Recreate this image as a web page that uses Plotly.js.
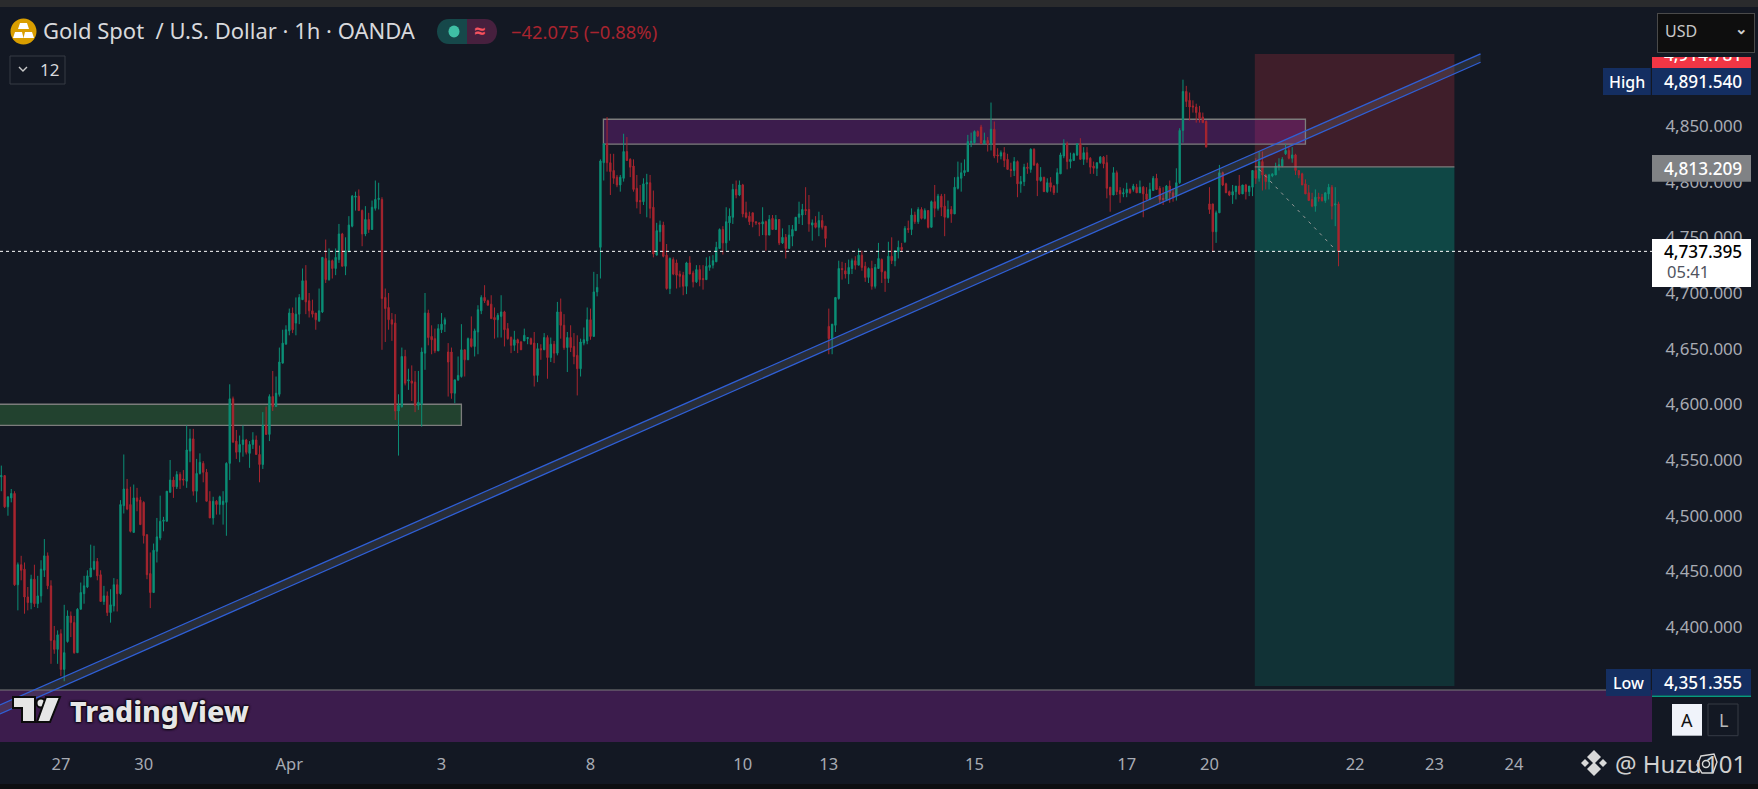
<!DOCTYPE html>
<html><head><meta charset="utf-8">
<script src="https://cdn.plot.ly/plotly-3.0.1.min.js"></script>
<style>html,body{margin:0;padding:0;background:#131823;overflow:hidden}#c{width:1758px;height:789px}</style>
</head><body><div id="c"></div>
<script>
const openPrice=[
4535,4536,4508,4516,4520,4438,4456,4452,4427,4422,
4443,4421,4428,4451,4464,4437,4388,4380,4394,4362,
4387,4410,4404,4377,4416,4430,4436,4445,4452,4459,
4447,4423,4428,4413,4419,4438,4430,4509,4524,4510,
4485,4516,4514,4512,4483,4448,4431,4468,4480,4495,
4495,4521,4532,4526,4537,4533,4531,4558,4569,4522,
4538,4547,4539,4513,4498,4513,4510,4510,4512,4547,
4605,4567,4557,4564,4568,4556,4564,4568,4555,4546,
4581,4573,4607,4598,4609,4637,4654,4666,4682,4673,
4681,4694,4711,4693,4684,4682,4675,4683,4731,4712,
4729,4722,4730,4753,4724,4737,4760,4786,4787,4774,
4753,4766,4757,4776,4784,4784,4696,4687,4676,4673,
4594,4598,4643,4621,4621,4620,4599,4600,4646,4682,
4661,4659,4648,4667,4672,4647,4647,4610,4622,4625,
4649,4640,4659,4652,4665,4684,4696,4693,4690,4678,
4676,4679,4683,4668,4660,4653,4658,4656,4657,4659,
4659,4655,4626,4650,4649,4660,4642,4654,4646,4683,
4671,4651,4660,4652,4644,4632,4655,4657,4676,4661,
4701,4741,4817,4834,4817,4810,4804,4797,4803,4827,
4820,4814,4794,4783,4782,4798,4799,4777,4734,4755,
4761,4734,4704,4730,4727,4717,4716,4706,4727,4718,
4710,4721,4713,4712,4723,4725,4728,4740,4757,4745,
4763,4768,4793,4788,4797,4772,4769,4772,4764,4763,
4762,4764,4752,4767,4757,4766,4745,4750,4740,4751,
4756,4768,4770,4775,4775,4761,4763,4759,4765,4760,
4670,4659,4671,4695,4722,4720,4717,4722,4729,4725,
4734,4724,4714,4722,4706,4722,4730,4719,4713,4733,
4729,4737,4741,4746,4758,4757,4770,4764,4775,4767,
4774,4759,4782,4776,4787,4778,4768,4775,4771,4794,
4803,4808,4809,4835,4835,4845,4849,4834,4837,4834,
4847,4824,4823,4826,4820,4811,4810,4818,4798,4800,
4813,4811,4829,4816,4801,4804,4791,4799,4796,4798,
4807,4823,4834,4818,4819,4824,4834,4820,4826,4821,
4814,4812,4817,4822,4817,4795,4788,4808,4792,4789,
4790,4793,4793,4795,4790,4795,4789,4784,4792,4803,
4794,4785,4784,4796,4790,4787,4799,4846,4881,4873,
4868,4867,4862,4858,4854,4780,4780,4755,4772,4808,
4798,4791,4788,4791,4796,4789,4797,4791,4795,4810,
4803,4818,4806,4800,4805,4806,4814,4814,4825,4828,
4821,4824,4810,4807,4798,4790,4784,4778,4786,4786,
4783,4789,4795,4779,4780];
const highPrice=[
4545,4536,4517,4524,4522,4458,4464,4458,4436,4447,
4456,4446,4460,4479,4467,4442,4401,4397,4398,4420,
4415,4414,4410,4417,4440,4446,4451,4474,4473,4462,
4451,4437,4432,4434,4444,4443,4514,4555,4533,4526,
4528,4525,4517,4513,4483,4467,4475,4498,4518,4499,
4522,4550,4535,4540,4539,4541,4581,4578,4578,4551,
4556,4549,4542,4522,4517,4514,4518,4522,4548,4618,
4607,4577,4572,4581,4569,4567,4575,4572,4563,4593,
4598,4609,4630,4625,4651,4667,4671,4686,4687,4696,
4699,4722,4725,4700,4694,4682,4704,4732,4748,4740,
4730,4740,4762,4754,4750,4769,4788,4791,4793,4775,
4778,4772,4783,4801,4799,4786,4704,4700,4682,4681,
4609,4651,4649,4632,4635,4630,4630,4651,4700,4685,
4671,4668,4672,4682,4678,4655,4651,4622,4643,4672,
4649,4660,4679,4668,4689,4698,4707,4694,4698,4687,
4682,4698,4684,4673,4661,4666,4659,4657,4668,4660,
4660,4665,4655,4654,4664,4662,4660,4657,4692,4695,
4681,4665,4671,4664,4662,4659,4669,4687,4686,4719,
4717,4820,4834,4858,4825,4825,4806,4806,4843,4840,
4821,4820,4806,4797,4803,4807,4806,4792,4763,4765,
4764,4744,4732,4732,4730,4720,4719,4728,4733,4720,
4725,4725,4725,4732,4733,4734,4746,4758,4760,4777,
4776,4798,4801,4801,4798,4782,4773,4772,4764,4763,
4777,4765,4770,4770,4770,4766,4758,4753,4761,4761,
4768,4782,4780,4795,4788,4766,4769,4773,4770,4760,
4686,4672,4696,4729,4728,4727,4730,4731,4733,4740,
4738,4728,4723,4729,4726,4745,4731,4720,4746,4750,
4738,4747,4745,4760,4765,4776,4773,4777,4777,4776,
4774,4783,4797,4789,4789,4789,4783,4778,4804,4818,
4817,4820,4842,4844,4846,4846,4851,4844,4840,4871,
4854,4830,4828,4831,4825,4817,4822,4819,4805,4816,
4817,4830,4830,4817,4813,4804,4803,4804,4797,4812,
4826,4838,4836,4826,4826,4834,4839,4831,4831,4822,
4818,4817,4823,4823,4824,4795,4813,4810,4795,4794,
4799,4794,4798,4798,4801,4796,4795,4799,4805,4807,
4796,4795,4797,4801,4794,4812,4848,4891.54,4886,4880,
4873,4870,4868,4862,4855,4795,4780,4774,4815,4809,
4799,4792,4797,4796,4806,4797,4798,4796,4810,4821,
4827,4827,4807,4807,4807,4817,4821,4822,4834,4831,
4831,4825,4810,4808,4802,4797,4790,4793,4790,4789,
4790,4798,4797,4795,4782];
const lowPrice=[
4522,4507,4500,4512,4437,4415,4442,4412,4415,4416,
4418,4417,4422,4445,4434,4367,4376,4367,4356,4351.36,
4386,4391,4376,4377,4416,4421,4435,4445,4451,4442,
4423,4420,4410,4404,4414,4414,4429,4502,4505,4485,
4485,4504,4492,4475,4443,4417,4431,4458,4478,4486,
4495,4521,4516,4524,4524,4527,4525,4548,4518,4512,
4537,4530,4513,4498,4492,4501,4501,4492,4482,4532,
4566,4551,4548,4553,4555,4543,4560,4555,4530,4542,
4573,4567,4594,4598,4607,4637,4654,4662,4664,4662,
4672,4694,4681,4678,4678,4667,4674,4682,4709,4711,
4713,4716,4727,4724,4716,4737,4759,4774,4774,4742,
4751,4754,4757,4774,4775,4649,4656,4667,4657,4586,
4554,4597,4617,4613,4603,4593,4595,4580,4631,4653,
4645,4646,4648,4664,4665,4607,4605,4601,4621,4624,
4625,4640,4651,4643,4645,4681,4691,4689,4677,4659,
4660,4660,4652,4658,4646,4648,4646,4649,4657,4654,
4654,4616,4620,4640,4649,4623,4638,4637,4644,4659,
4649,4629,4647,4636,4608,4625,4653,4654,4658,4661,
4697,4713,4801,4809,4788,4798,4795,4791,4800,4819,
4804,4791,4776,4771,4779,4768,4767,4732,4734,4746,
4732,4703,4699,4716,4704,4705,4698,4699,4717,4705,
4709,4706,4703,4712,4720,4722,4728,4740,4734.5,4738,
4747,4762,4785,4787,4768,4767,4761,4759,4761,4751,
4752,4738,4752,4757,4757,4743,4744,4731,4740,4742,
4756,4762,4761,4770,4755,4747,4758,4751,4757,4741,
4645,4645,4665,4694,4712,4713,4708,4717,4721,4725,
4720,4710,4709,4703,4704,4722,4709,4701,4709,4726,
4724,4731,4737,4745,4754,4752,4762,4762,4766,4766,
4758,4759,4768,4774,4769,4751,4767,4763,4771,4793,
4791,4805,4809,4831,4834,4840,4834,4834,4827,4828,
4821,4817,4820,4813,4811,4804,4805,4786,4790,4796,
4807,4808,4814,4787,4800,4791,4790,4791,4788,4790,
4807,4821,4811,4812,4819,4823,4820,4815,4817,4807,
4807,4805,4816,4812,4785,4773,4788,4788,4781,4786,
4786,4789,4791,4790,4790,4768,4784,4784,4792,4793,
4780,4779,4783,4781,4782,4783,4798,4835,4867,4855,
4862,4853,4853,4853,4831,4771,4737,4745,4772,4796,
4790,4787,4780,4784,4788,4789,4784,4787,4787,4798,
4800,4792,4793,4793,4804,4806,4810,4813,4824,4820,
4817,4806,4803,4797,4789,4783,4777,4773,4782,4782,
4781,4784,4766,4760,4724];
const closePrice=[
4536,4508,4517,4520,4438,4456,4451,4427,4422,4443,
4421,4428,4452,4464,4437,4388,4380,4393,4362,4377,
4410,4404,4377,4416,4431,4437,4446,4453,4459,4446,
4423,4428,4413,4420,4438,4430,4510,4524,4506,4486,
4516,4513,4492,4482,4447,4431,4469,4481,4495,4496,
4522,4532,4526,4537,4532,4532,4559,4569,4522,4538,
4548,4539,4513,4498,4513,4510,4517,4513,4547,4605,
4566,4557,4564,4568,4557,4564,4568,4555,4546,4581,
4573,4607,4598,4610,4638,4655,4667,4682,4667,4681,
4696,4711,4692,4684,4681,4676,4684,4732,4712,4729,
4722,4732,4753,4724,4738,4761,4787,4787,4774,4753,
4766,4757,4777,4784,4785,4695,4686,4676,4672,4594,
4599,4643,4619,4622,4619,4599,4602,4647,4682,4660,
4658,4648,4668,4672,4676,4638,4610,4622,4626,4649,
4640,4659,4652,4666,4685,4696,4693,4689,4677,4676,
4680,4683,4667,4659,4653,4658,4655,4649,4662,4660,
4654,4626,4650,4649,4660,4642,4654,4646,4683,4671,
4651,4660,4651,4643,4632,4656,4658,4676,4661,4701,
4705,4818.5,4834,4817,4809,4803,4797,4804,4827,4819,
4813,4793,4782,4782,4798,4799,4776,4735,4756,4761,
4733,4704,4731,4717,4716,4715,4706,4727,4717,4710,
4721,4712,4712,4724,4725,4729,4741,4757,4745,4764,
4769,4793,4788,4797,4771,4768,4764,4764,4763,4762,
4764,4752,4766,4757,4766,4745,4750,4740,4752,4757,
4768,4771,4775,4774,4762,4763,4759,4765,4759,4749,
4659,4672,4696,4722,4721,4717,4723,4729,4725,4734,
4723,4714,4722,4706,4723,4731,4719,4713,4733,4729,
4738,4741,4739,4758,4757,4770,4764,4775,4767,4774,
4759,4782,4776,4787,4777,4768,4775,4771,4795,4804,
4808,4810,4836,4836,4845,4841,4834,4837,4834,4847,
4823,4823,4826,4819,4811,4810,4818,4798,4800,4813,
4812,4829,4815,4801,4804,4791,4799,4795,4790,4808,
4824,4834,4818,4820,4825,4834,4820,4826,4820,4813,
4812,4817,4822,4816,4794,4788,4808,4791,4789,4790,
4793,4790,4796,4790,4795,4789,4784,4793,4803,4793,
4784,4784,4796,4790,4786,4799,4846,4881,4872,4867,
4867,4862,4857,4853,4831,4775,4755,4772,4808,4797,
4790,4788,4791,4796,4789,4797,4791,4796,4810,4803,
4818,4806,4800,4806,4807,4814,4815,4820,4828,4821,
4824,4810,4806,4797,4789,4783,4778,4786,4785,4783,
4790,4795,4778,4780,4737.395];
const barIndex=openPrice.map((_,i)=>i);
const timeTickPos=[18,43,87,133,178,224,250,294,340,365,409,433,457];
const timeTickText=['27','30','Apr','3','8','10','13','15','17','20','22','23','24'];
const priceTicks=[4400,4450,4500,4550,4600,4650,4700,4750,4800,4850];

const BG='#131823',W=1652,H=742;
const xRange=[-0.4,498.7],yRange=[4296.8,4963.1];
const PX=x=>x/W, PY=y=>1-y/H;
const poly=(pts,close=true)=>pts.map((p,i)=>(i?'L':'M')+PX(p[0]).toFixed(5)+' '+PY(p[1]).toFixed(5)).join(' ')+(close?' Z':'');
const ppath=(pts,fill,line,lw,close=true)=>({type:'path',xref:'paper',yref:'paper',path:poly(pts,close),fillcolor:fill||'rgba(0,0,0,0)',line:{color:line||'rgba(0,0,0,0)',width:lw||0},layer:'above'});
const prect=(x0,y0,x1,y1,fill,line,lw)=>({type:'rect',xref:'paper',yref:'paper',x0:PX(x0),x1:PX(x1),y0:PY(y0),y1:PY(y1),fillcolor:fill,line:{color:line||'rgba(0,0,0,0)',width:lw||0},layer:'above'});
const pcirc=(cx,cy,rx,ry,fill,line,lw)=>({type:'circle',xref:'paper',yref:'paper',x0:PX(cx-rx),x1:PX(cx+rx),y0:PY(cy-ry),y1:PY(cy+ry),fillcolor:fill,line:{color:line||'rgba(0,0,0,0)',width:lw||0},layer:'above'});
const zone=(k0,k1,p0,p1,fill,line,lw,layer)=>({type:'rect',xref:'x',yref:'y',x0:k0,x1:k1,y0:p0,y1:p1,fillcolor:fill,line:{color:line||'rgba(0,0,0,0)',width:lw||0},layer:layer||'below'});
const seg=(k0,p0,k1,p1,color,w,dash,layer)=>({type:'line',xref:'x',yref:'y',x0:k0,x1:k1,y0:p0,y1:p1,line:{color:color,width:w,dash:dash||'solid'},layer:layer||'above'});
const FF='"Noto Sans", "Open Sans", sans-serif';
const lab=(t,x,y,o={})=>({text:t,xref:'paper',yref:'paper',x:PX(x),y:PY(y),showarrow:false,xanchor:o.xa||'right',yanchor:o.ya||'middle',
  font:Object.assign({family:o.family||FF,size:o.size||15,color:o.color||'#fff',weight:o.weight||400},o.shadow?{shadow:o.shadow}:{}),
  ...(o.width?{width:o.width,height:o.height,align:o.align||'left',bgcolor:o.bg,bordercolor:o.bc||'rgba(0,0,0,0)',borderwidth:o.bw||0,borderpad:0,valign:'middle'}:{})});

const shapes=[
 zone(-5,139,4581.2,4600.1,'rgba(76,175,80,0.28)','#7c7c7c',1.3),
 zone(378.7,439,4813.2,4914.7,'rgba(242,54,69,0.2)'),
 zone(378.7,439,4347,4813.2,'rgba(8,153,129,0.2)'),
 zone(378.7,439,4737.4,4813.2,'rgba(8,153,129,0.2)'),
 zone(181.9,394,4833.6,4856,'rgba(156,39,176,0.3)','#7c7c7c',1.3),
 zone(-5,510,4290,4343.5,'rgba(156,39,176,0.3)'),
 seg(-5,4343.5,485,4343.5,'#7c7c7c',1.2),
 seg(378.7,4813.2,439,4813.2,'#7c7c7c',1.2),
 seg(380,4811,403,4739,'#9a9a9a',1,'3px,5px'),
 {type:'path',xref:'x',yref:'y',layer:'above',path:'M -0.4 4330.1 L 446.9 4914.7 L 446.9 4907.2 L -0.4 4322 Z',fillcolor:'rgba(120,123,134,0.22)',line:{width:0,color:'rgba(0,0,0,0)'}},
 seg(-0.4,4330.1,446.9,4914.7,'#2f5fd6',1.3),
 seg(-0.4,4322,446.9,4907.2,'#2f5fd6',1.3),
 {type:'line',xref:'paper',yref:'y',x0:0,x1:1,y0:4737.395,y1:4737.395,line:{color:'#ffffff',width:1,dash:'dot'},layer:'above'},
 prect(0,0,1758,7,'#2a2b2d'),
 prect(0,784,1758,789,'#0d0e11'),
 pcirc(23.5,31.5,13,13,'#d99e00'),
 ppath([[20,23],[27,23],[29,29],[18,29]],'#ffffff'),
 ppath([[15,32],[22,32],[23.5,38],[13,38]],'#ffffff'),
 ppath([[25,32],[32,32],[34,38],[23.5,38]],'#ffffff'),
 {type:'path',xref:'paper',yref:'paper',layer:'above',line:{width:0,color:'rgba(0,0,0,0)'},fillcolor:'#16484a',
  path:`M ${PX(467)} ${PY(19)} L ${PX(449)} ${PY(19)} C ${PX(433)} ${PY(19)} ${PX(433)} ${PY(44)} ${PX(449)} ${PY(44)} L ${PX(467)} ${PY(44)} Z`},
 {type:'path',xref:'paper',yref:'paper',layer:'above',line:{width:0,color:'rgba(0,0,0,0)'},fillcolor:'#47203e',
  path:`M ${PX(467)} ${PY(19)} L ${PX(485)} ${PY(19)} C ${PX(501)} ${PY(19)} ${PX(501)} ${PY(44)} ${PX(485)} ${PY(44)} L ${PX(467)} ${PY(44)} Z`},
 pcirc(454,31.5,5.5,6,'#3fbfa5'),
 prect(10,56,65,84,BG,'#363a45',1),
 ppath([[19,67],[23,71],[27,67]],null,'#c8c8c8',1.4,false),
 prect(1652,57,1751,68,'#f23645'),
 prect(1603,68,1650.8,95,'#142e61'),prect(1652,68,1751,95,'#142e61'),
 prect(1652,155,1751,181.7,'#808285'),
 prect(1652,239,1751,287,'#ffffff'),
 prect(1606,669,1650.8,696,'#142e61'),prect(1652,669,1751,695.5,'#142e61'),
 prect(1652,695.5,1751,697,'#089981'),
 prect(1672,704,1702,735.7,'#f0f3fa'),
 prect(1708,704,1738,735.7,BG,'#363a45',1),
 ppath([[13,697],[35,697],[35,722],[22,722],[22,708],[13,708]],'#e6e6e6','#0c0c0c',2),
 pcirc(41,703,4.5,4.5,'#e6e6e6','#0c0c0c',2),
 ppath([[46,697],[60,697],[50,722],[37,722]],'#e6e6e6','#0c0c0c',2),
 ppath([[1594,750],[1601,757],[1594,764],[1587,757]],'#d8d8d8'),
 ppath([[1594,762],[1601,769],[1594,776],[1587,769]],'#d8d8d8'),
 ppath([[1585,759],[1589,763],[1585,767],[1581,763]],'#d8d8d8'),
 ppath([[1603,759],[1607,763],[1603,767],[1599,763]],'#d8d8d8'),
 ppath([[1701,756],[1714,754],[1717,762],[1713,773],[1702,773],[1697,765]],null,'#d8d8d8',1.4),
 pcirc(1706,764,3.5,3.5,'rgba(0,0,0,0)','#d8d8d8',1.4),
];

const annotations=[
 lab('Gold Spot  / U.S. Dollar · 1h · OANDA',41,30,{xa:'left',size:22,color:'#d8d9dc'}),
 lab('≈',480,30,{xa:'center',size:20,color:'#f7525f',weight:700}),
 lab('−42.075 (−0.88%)',509,31,{xa:'left',size:18.4,color:'#a8242f'}),
 lab('12',49,70,{xa:'center',size:17,color:'#d8d9dc'}),
 lab('4,914.781',1744,54.5,{size:17.2,color:'#fff',weight:500}),
 lab(' ',1650,45,{xa:'left',ya:'top',width:104,height:12,bg:BG}),
 lab(' ',1657,13,{xa:'left',ya:'top',width:96,height:38,bg:'#0e0e0e',bc:'#4a4a4a',bw:1}),
 lab('USD',1663,31,{xa:'left',size:16,color:'#c8c8c8'}),
 lab('⌄',1741,28,{xa:'center',size:15,color:'#d0d0d0',weight:700}),
 lab('High',1627,81.5,{xa:'center',size:16,color:'#fff',weight:500}),
 lab('4,891.540',1744,81.5,{size:17.2,color:'#fff',weight:500}),
 lab('4,813.209',1744,168.5,{size:17.2,color:'#fff',weight:500}),
 lab('4,737.395',1744,252,{size:17.2,color:'#000',weight:500}),
 lab('05:41',1665,272,{xa:'left',size:16.5,color:'#50535e'}),
 lab('Low',1628,682.5,{xa:'center',size:16,color:'#fff',weight:500}),
 lab('4,351.355',1744,682.5,{size:17.2,color:'#fff',weight:500}),
 lab('A',1687,720,{xa:'center',size:18,color:'#111'}),
 lab('L',1723,720,{xa:'center',size:18,color:'#b8b8b8'}),
 lab('TradingView',68,711,{xa:'left',size:28.5,color:'#e6e6e6',weight:800,shadow:'0 0 3px #000, 0 0 3px #000, 0 0 2px #000'}),
 lab('@ Huzu',1613,763,{xa:'left',size:24,color:'#d0d0d0'}),
 lab('101',1748,763,{size:24,color:'#d0d0d0'}),
];

const data=[{type:'candlestick',x:barIndex,open:openPrice,high:highPrice,low:lowPrice,close:closePrice,
 increasing:{line:{color:'#0b8f76',width:1},fillcolor:'#0b8f76'},
 decreasing:{line:{color:'#a8252f',width:1},fillcolor:'#a8252f'},
 whiskerwidth:0,hoverinfo:'skip',showlegend:false}];

const layout={width:1758,height:789,margin:{l:0,r:106,t:0,b:47,pad:0},paper_bgcolor:BG,plot_bgcolor:BG,showlegend:false,boxgap:0.42,
 xaxis:{type:'linear',range:xRange,rangeslider:{visible:false},showgrid:false,zeroline:false,showline:false,
  tickmode:'array',tickvals:timeTickPos,ticktext:timeTickText,ticks:'outside',ticklen:7,tickcolor:'rgba(0,0,0,0)',
  tickfont:{family:FF,size:16.5,color:'#a8abb3'}},
 yaxis:{type:'linear',side:'right',range:yRange,showgrid:false,zeroline:false,showline:false,
  tickmode:'array',tickvals:priceTicks,tickformat:',.3f',ticks:'outside',ticklen:9,tickcolor:'rgba(0,0,0,0)',
  tickfont:{family:FF,size:17,color:'#a8abb3'}},
 shapes,annotations,font:{family:FF}};
Plotly.newPlot('c',data,layout,{displayModeBar:false,staticPlot:true});
</script></body></html>
